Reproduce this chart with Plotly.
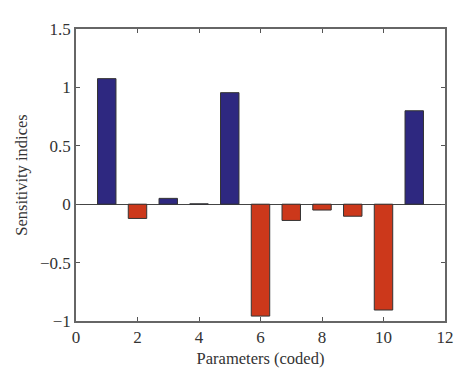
import plotly.graph_objects as go

params = [1, 2, 3, 4, 5, 6, 7, 8, 9, 10, 11]
values = [1.075, -0.122, 0.05, 0.003, 0.955, -0.958, -0.139, -0.05, -0.103, -0.906, 0.80]
y_ticks = [-1, -0.5, 0, 0.5, 1, 1.5]
y_tick_labels = ["\u22121", "\u22120.5", "0", "0.5", "1", "1.5"]
pos_color = "#2e2880"
neg_color = "#cc381b"
colors = [pos_color if v >= 0 else neg_color for v in values]

fig = go.Figure(go.Bar(
    x=params, y=values, width=0.6,
    marker=dict(color=colors, line=dict(color="#333333", width=1)),
))

font = "Liberation Serif"
fig.update_layout(
    width=458, height=369,
    margin=dict(l=68, r=16, t=15, b=54),
    paper_bgcolor="white", plot_bgcolor="white",
    font=dict(family=font, size=17, color="#333333"),
    showlegend=False,
)
fig.update_xaxes(
    range=[0, 12], tickmode="linear", tick0=0, dtick=2,
    ticks="inside", ticklen=4, tickcolor="#555555",
    showline=True, linecolor="#666666", linewidth=1.5, mirror="ticks",
    showgrid=False, zeroline=False,
    tickfont=dict(family=font, size=17),
    title=dict(text="Parameters (coded)", font=dict(family=font, size=16.5), standoff=6),
)
fig.update_yaxes(
    range=[-1, 1.5], tickmode="array", tickvals=y_ticks, ticktext=y_tick_labels,
    ticks="inside", ticklen=4, tickcolor="#555555",
    showline=True, linecolor="#666666", linewidth=1.5, mirror="ticks",
    showgrid=False, zeroline=True, zerolinecolor="#444444", zerolinewidth=1,
    tickfont=dict(family=font, size=17),
    title=dict(text="Sensitivity indices", font=dict(family=font, size=16.5), standoff=8),
)
fig.write_html("out.html")
